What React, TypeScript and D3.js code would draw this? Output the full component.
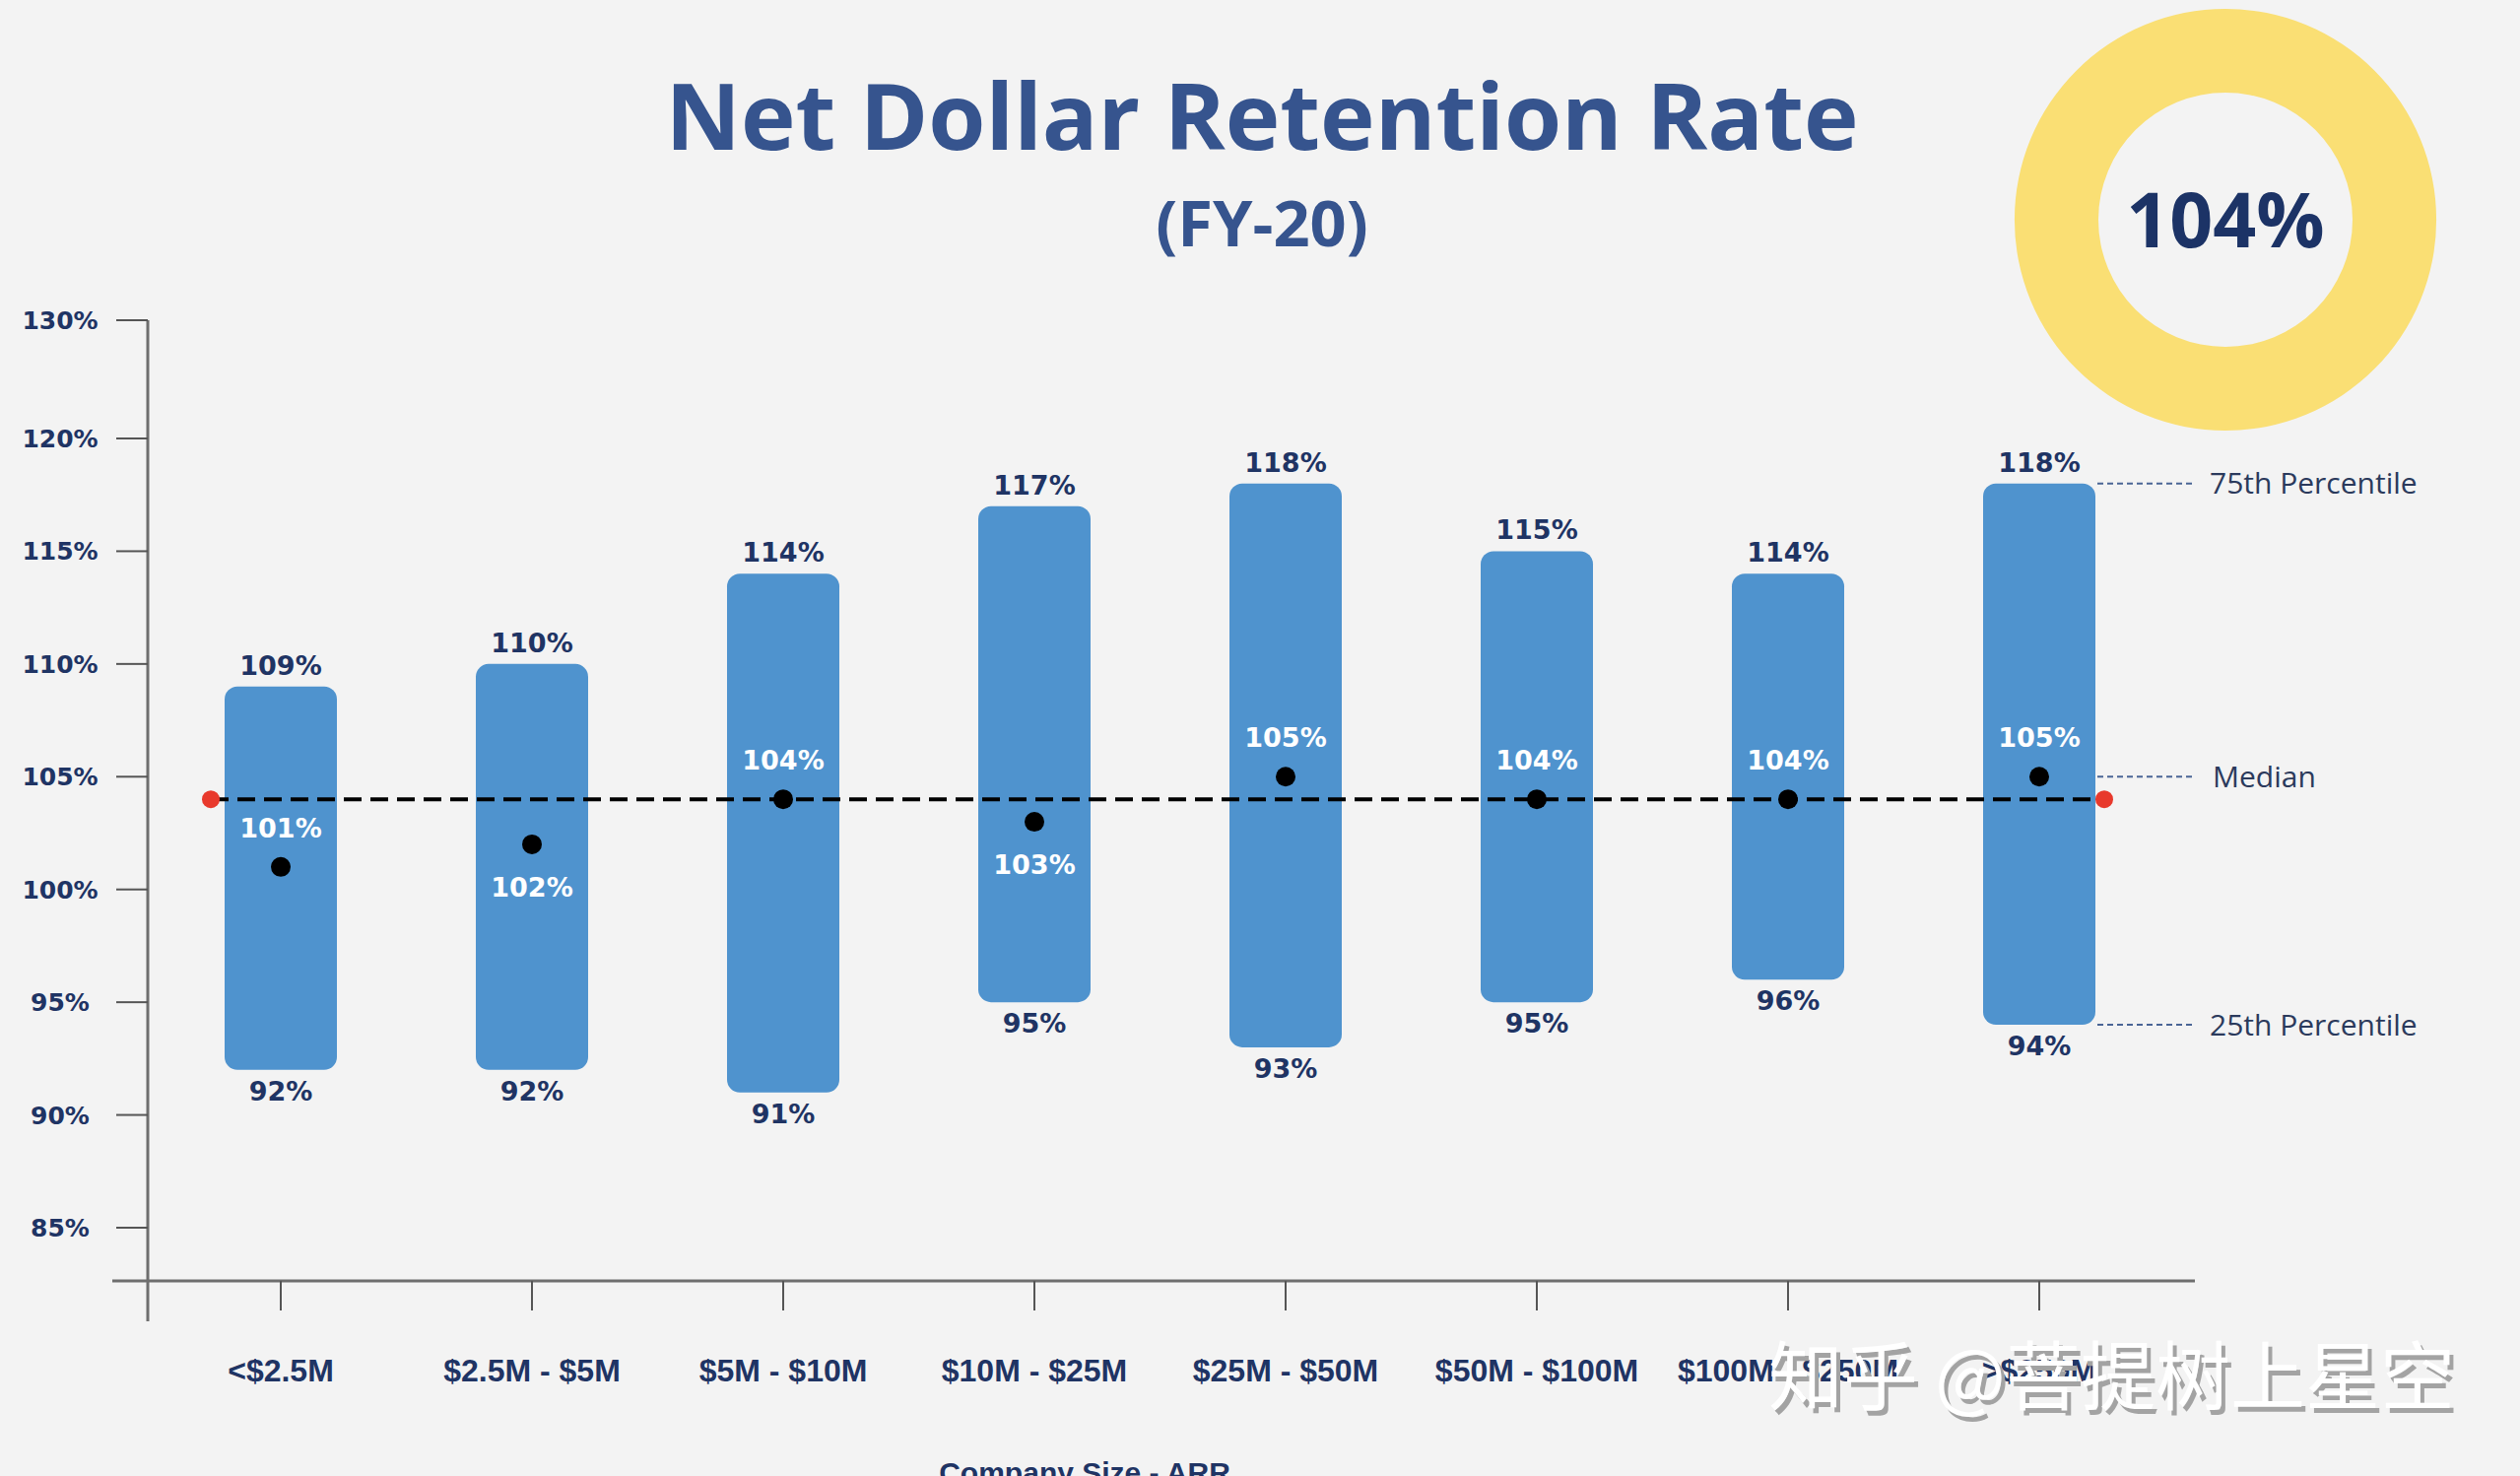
import React from 'react';
import * as d3 from 'd3';

// Net dollar retention by company size (FY-20)
const categories = ['<$2.5M', '$2.5M - $5M', '$5M - $10M', '$10M - $25M', '$25M - $50M', '$50M - $100M', '$100M - $250M', '>$250M'];
const p25 = [92, 92, 91, 95, 93, 95, 96, 94];
const p75 = [109, 110, 114, 117, 118, 115, 114, 118];
const medians = [101, 102, 104, 103, 105, 104, 104, 105];
const overallMedian = 104;
const yTicks = [85, 90, 95, 100, 105, 110, 115, 120, 130];
const legendLabels = ['75th Percentile', 'Median', '25th Percentile'];

const NAVY = '#1F3464';
const TITLE = '#36548E';
const BAR = '#4F93CE';
const PCT_FONT = "'DejaVu Sans', sans-serif";

function App() {
  const W = 2558;
  const H = 1498;

  // the top of the axis is compressed: 120 -> 130 takes less room than 5 points below
  const y = d3.scaleLinear().domain([85, 120, 130]).range([1246, 445, 325]);
  const x = d3.scalePoint<string>().domain(categories).range([285, 2070]);
  const barW = 114;
  const axisX = 150;
  const axisY = 1300;
  const fmt = (v: number) => `${v}%`;

  const last = categories.length - 1;
  const lineX0 = (x(categories[0]) as number) - barW / 2 - 14;
  const lineX1 = (x(categories[last]) as number) + barW / 2 + 9;
  const legendYs = [y(p75[last]), y(medians[last]), y(p25[last])];
  const legendX0 = (x(categories[last]) as number) + barW / 2 + 2;

  const ring = d3.arc()({ innerRadius: 129, outerRadius: 214, startAngle: 0, endAngle: Math.PI * 2 }) as string;

  return (
    <svg width={W} height={H} style={{ position: 'fixed', left: 0, top: 0, display: 'block' }}>
      <rect width={W} height={H} fill="#F3F3F3" />

      {/* title */}
      <text x={1281} y={152} textAnchor="middle" fontFamily="'Open Sans', sans-serif" fontWeight={700} fontSize={94} fill={TITLE}>
        Net Dollar Retention Rate
      </text>
      <text x={1281} y={250} textAnchor="middle" fontFamily="'Open Sans', sans-serif" fontWeight={700} fontSize={65} fill={TITLE}>
        (FY-20)
      </text>

      {/* overall median badge */}
      <g transform="translate(2259,223)">
        <path d={ring} fill="#FADF74" />
        <text y={28} textAnchor="middle" fontFamily="'Open Sans', sans-serif" fontWeight={700} fontSize={77} fill="#1C3366">
          {fmt(overallMedian)}
        </text>
      </g>

      {/* y axis */}
      <line x1={axisX} x2={axisX} y1={y(130)} y2={1341} stroke="#6E6E6E" strokeWidth={3} />
      {yTicks.map(t => (
        <g key={t} transform={`translate(0,${y(t)})`}>
          <line x1={118} x2={axisX} stroke="#555" strokeWidth={2} />
          <text x={61} dy="0.36em" textAnchor="middle" fontFamily={PCT_FONT} fontWeight={700} fontSize={25} fill={NAVY}>
            {fmt(t)}
          </text>
        </g>
      ))}

      {/* x axis */}
      <line x1={114} x2={2228} y1={axisY} y2={axisY} stroke="#6E6E6E" strokeWidth={3} />
      {categories.map(c => (
        <g key={c} transform={`translate(${x(c)},0)`}>
          <line y1={axisY} y2={axisY + 30} stroke="#555" strokeWidth={2} />
          <text y={1402} textAnchor="middle" fontFamily="'Liberation Sans', Arial, sans-serif" fontWeight={700} fontSize={32} fill={NAVY}>
            {c}
          </text>
        </g>
      ))}
      <text x={1101} y={1505} textAnchor="middle" fontFamily="'Liberation Sans', Arial, sans-serif" fontWeight={700} fontSize={30} fill={NAVY}>
        Company Size - ARR
      </text>

      {/* interquartile bars */}
      {categories.map((c, i) => {
        const cx = x(c) as number;
        const top = y(p75[i]);
        const bottom = y(p25[i]);
        return (
          <g key={c}>
            <rect x={cx - barW / 2} y={top} width={barW} height={bottom - top} rx={13} fill={BAR} />
            <text x={cx} y={top - 12} textAnchor="middle" fontFamily={PCT_FONT} fontWeight={700} fontSize={27} fill={NAVY}>
              {fmt(p75[i])}
            </text>
            <text x={cx} y={bottom + 31} textAnchor="middle" fontFamily={PCT_FONT} fontWeight={700} fontSize={27} fill={NAVY}>
              {fmt(p25[i])}
            </text>
          </g>
        );
      })}

      {/* overall median line */}
      <line x1={lineX0} x2={lineX1} y1={y(overallMedian)} y2={y(overallMedian)} stroke="#000" strokeWidth={4} strokeDasharray="18 9" />
      <circle cx={lineX0} cy={y(overallMedian)} r={9} fill="#E8392C" />
      <circle cx={lineX1} cy={y(overallMedian)} r={9} fill="#E8392C" />

      {/* per-segment medians */}
      {categories.map((c, i) => {
        const cx = x(c) as number;
        const cy = y(medians[i]);
        const gap = cy - y(overallMedian);
        // labels go under the dot when the dashed line would run through them
        const below = gap > 0 && gap < 60;
        return (
          <g key={c}>
            <circle cx={cx} cy={cy} r={10} fill="#000" />
            <text x={cx} y={below ? cy + 53 : cy - 30} textAnchor="middle" fontFamily={PCT_FONT} fontWeight={700} fontSize={27} fill="#fff">
              {fmt(medians[i])}
            </text>
          </g>
        );
      })}

      {/* legend callouts */}
      {legendLabels.map((l, i) => (
        <g key={l} transform={`translate(0,${legendYs[i]})`}>
          <line x1={legendX0} x2={2227} stroke="#4A6595" strokeWidth={2} strokeDasharray="6 4" />
          <text x={l === 'Median' ? 2246 : 2243} dy="0.35em" fontFamily="'Open Sans', sans-serif" fontSize={30} fill="#2B3A5C">
            {l}
          </text>
        </g>
      ))}

      {/* watermark */}
      <g fontFamily="'Noto Sans CJK SC', sans-serif" fontSize={76}>
        <text x={1799} y={1430} fill="#A3A3A3">知乎 @菩提树上星空</text>
        <text x={1795} y={1425} fill="#FFFFFF">知乎 @菩提树上星空</text>
      </g>
    </svg>
  );
}

export default App;
